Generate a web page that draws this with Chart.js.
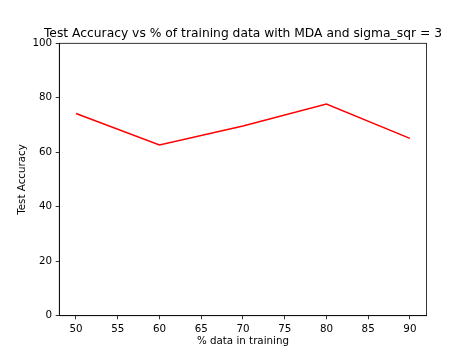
<!DOCTYPE html>
<html>
<head>
<meta charset="utf-8">
<script src="https://cdn.jsdelivr.net/npm/chart.js@4/dist/chart.umd.min.js"></script>
<style>
html,body{margin:0;padding:0;background:#fff;}
#c{display:block;}
</style>
</head>
<body>
<canvas id="c" width="474" height="355"></canvas>
<script>
const trainingPct = [50, 60, 70, 80, 90];
const testAccuracy = [74.2, 62.7, 69.6, 77.7, 65.1];
const xTicks = [50, 55, 60, 65, 70, 75, 80, 85, 90];
const yTicks = [0, 20, 40, 60, 80, 100];
const titleText = 'Test Accuracy vs % of training data with MDA and sigma_sqr = 3';
const xLabel = '% data in training';
const yLabel = 'Test Accuracy';

const FONT = 'DejaVu Sans';
const framePlugin = {
  id: 'frame',
  afterDatasetsDraw(chart) {
    const {ctx, chartArea: a} = chart;
    ctx.save();
    ctx.strokeStyle = '#000';
    ctx.lineWidth = 0.8;
    ctx.strokeRect(a.left, a.top, a.right - a.left, a.bottom - a.top);
    ctx.fillStyle = '#000';
    ctx.font = '12.3px "' + FONT + '"';
    ctx.textAlign = 'center';
    ctx.textBaseline = 'alphabetic';
    ctx.fillText(titleText, (a.left + a.right) / 2, a.top - 6.3);
    ctx.restore();
  }
};

new Chart(document.getElementById('c'), {
  type: 'line',
  data: {
    datasets: [{
      data: trainingPct.map((x, i) => ({x: x, y: testAccuracy[i]})),
      borderColor: '#ff0000',
      borderWidth: 1.55,
      pointRadius: 0,
      fill: false,
      tension: 0
    }]
  },
  options: {
    responsive: false,
    animation: false,
    devicePixelRatio: 1,
    layout: {padding: {left: 0, right: 47.4, top: 43.3, bottom: 0}},
    plugins: {
      legend: {display: false},
      tooltip: {enabled: false},
      title: {display: false}
    },
    scales: {
      x: {
        type: 'linear',
        min: 48, max: 92,
        afterBuildTicks(s) { s.ticks = xTicks.map(v => ({value: v})); },
        afterFit(s) { s.height = 39.3; },
        grid: {drawOnChartArea: false, drawTicks: true, tickLength: 3.6, tickColor: '#000', tickWidth: 0.8},
        border: {display: true, color: '#000', width: 0.8},
        ticks: {color: '#000', padding: 3.6, maxRotation: 0, autoSkip: false,
                font: {family: FONT, size: 10.3}},
        title: {display: true, text: xLabel, color: '#000',
                font: {family: FONT, size: 10.3, lineHeight: 1.2},
                padding: {top: 0, bottom: 7.1}}
      },
      y: {
        type: 'linear',
        min: 0, max: 100,
        afterBuildTicks(s) { s.ticks = yTicks.map(v => ({value: v})); },
        afterFit(s) { s.width = 59.3; },
        grid: {drawOnChartArea: false, drawTicks: true, tickLength: 3.6, tickColor: '#000', tickWidth: 0.8},
        border: {display: true, color: '#000', width: 0.8},
        ticks: {color: '#000', padding: 3.6, autoSkip: false,
                font: {family: FONT, size: 10.3}},
        title: {display: true, text: yLabel, color: '#000',
                font: {family: FONT, size: 10.3, lineHeight: 1.2},
                padding: {top: 15.8, bottom: 0}}
      }
    }
  },
  plugins: [framePlugin]
});
</script>
</body>
</html>
